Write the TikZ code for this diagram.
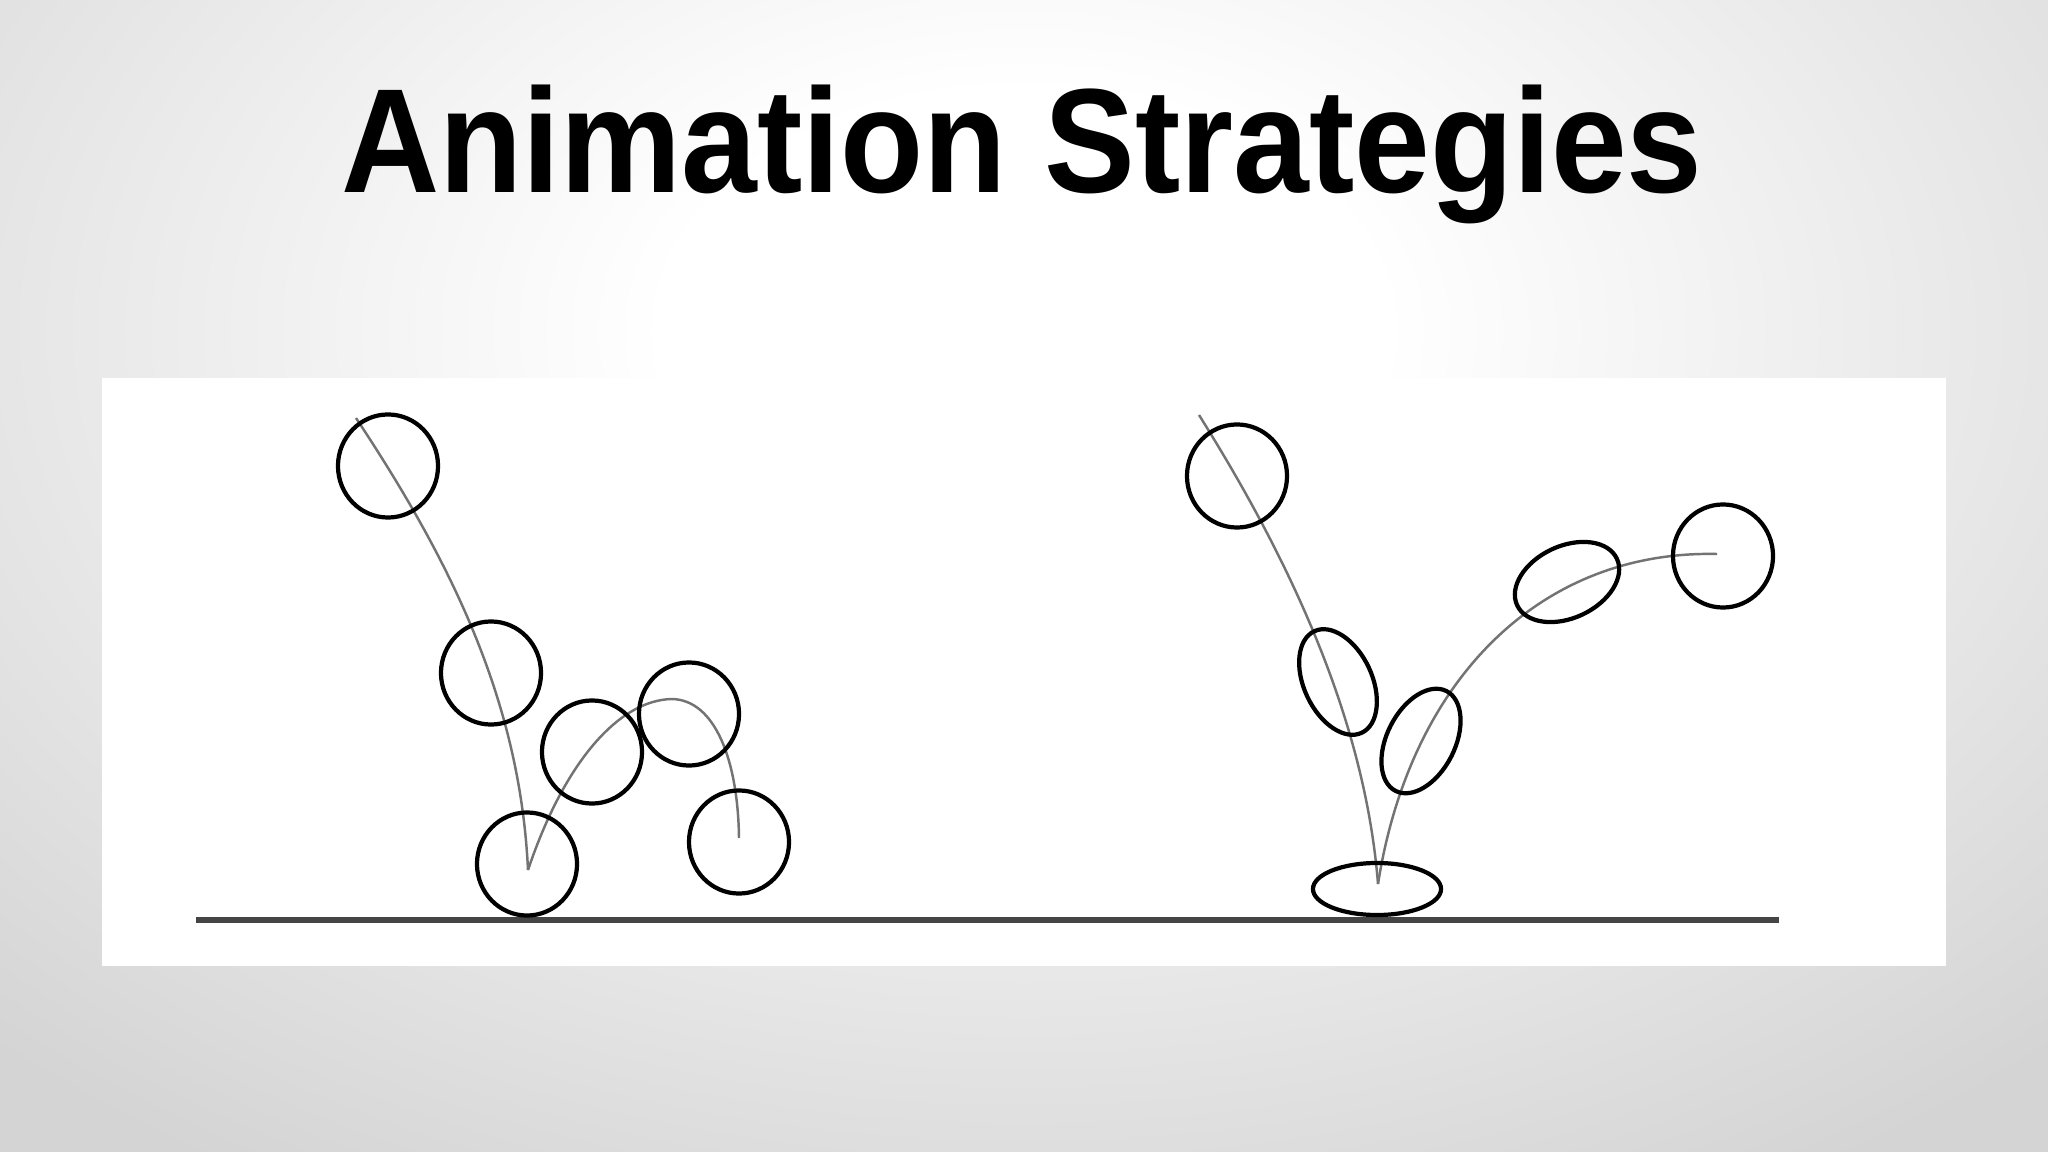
\documentclass[tikz,border=0pt]{standalone}
\usepackage{fontspec}
\setmainfont{Liberation Sans}
\usetikzlibrary{shapes.geometric}
\definecolor{pathgray}{rgb}{.45,.45,.45}
\definecolor{groundgray}{rgb}{.27,.27,.27}
\definecolor{slidegray}{rgb}{.83,.83,.83}
\pgfdeclareradialshading{slidebg}{\pgfpoint{0bp}{0bp}}{color(0bp)=(white);color(6bp)=(white);color(25bp)=(slidegray);color(50bp)=(slidegray)}

\begin{document}
\begin{tikzpicture}[x=.01cm,y=-.01cm,
    ball/.style={draw,ellipse,line width=1.2pt,inner sep=0pt,minimum width=1cm,minimum height=1.03cm},
    track/.style={draw=pathgray,line width=.7pt}]
  \useasboundingbox (0,0) rectangle (2048,1152);
  \begin{scope}
    \clip (0,0) rectangle (2048,1152);
    \fill[slidegray] (0,0) rectangle (2048,1152);
    \shade[shading=slidebg] (1024,330) ellipse [x radius=1500,y radius=1000];
  \end{scope}
  \fill[white] (102,378) rectangle (1946,966);
  \node[font=\fontsize{42.2}{50}\selectfont\bfseries,xscale=.917,anchor=base] (title) at (1022,193) {Animation Strategies};
  \coordinate (groundL) at (196,920);
  \coordinate (groundR) at (1779,920);
  \draw[groundgray,line width=1.5pt] (groundL) -- (groundR);
  \draw[track] (356,418) .. controls (450,560) and (520,700) .. (528,870);
  \draw[track] (528,870) .. controls (565,760) and (620,700) .. (672,699) .. controls (715,700) and (738,760) .. (739,838);
  \draw[track] (1199,415) .. controls (1290,560) and (1365,720) .. (1378,884);
  \draw[track] (1378,884) .. controls (1410,680) and (1540,550) .. (1717,554);
  \node[ball] (l1) at (388,466) {};
  \node[ball] (l2) at (491,673) {};
  \node[ball] (l3) at (527,864) {};
  \node[ball] (l4) at (592,752) {};
  \node[ball] (l5) at (689,714) {};
  \node[ball] (l6) at (739,842) {};
  \node[ball] (r1) at (1237,476) {};
  \node[ball,minimum width=.68cm,minimum height=1.12cm,rotate=25] (r2) at (1338,682) {};
  \node[ball,minimum width=.68cm,minimum height=1.12cm,rotate=-27] (r3) at (1421,741) {};
  \node[ball,minimum width=1.1cm,minimum height=.72cm,rotate=25] (r4) at (1567,582) {};
  \node[ball] (r5) at (1723,556) {};
  \node[ball,minimum width=1.28cm,minimum height=.52cm] (r6) at (1377,889) {};
\end{tikzpicture}
\end{document}
